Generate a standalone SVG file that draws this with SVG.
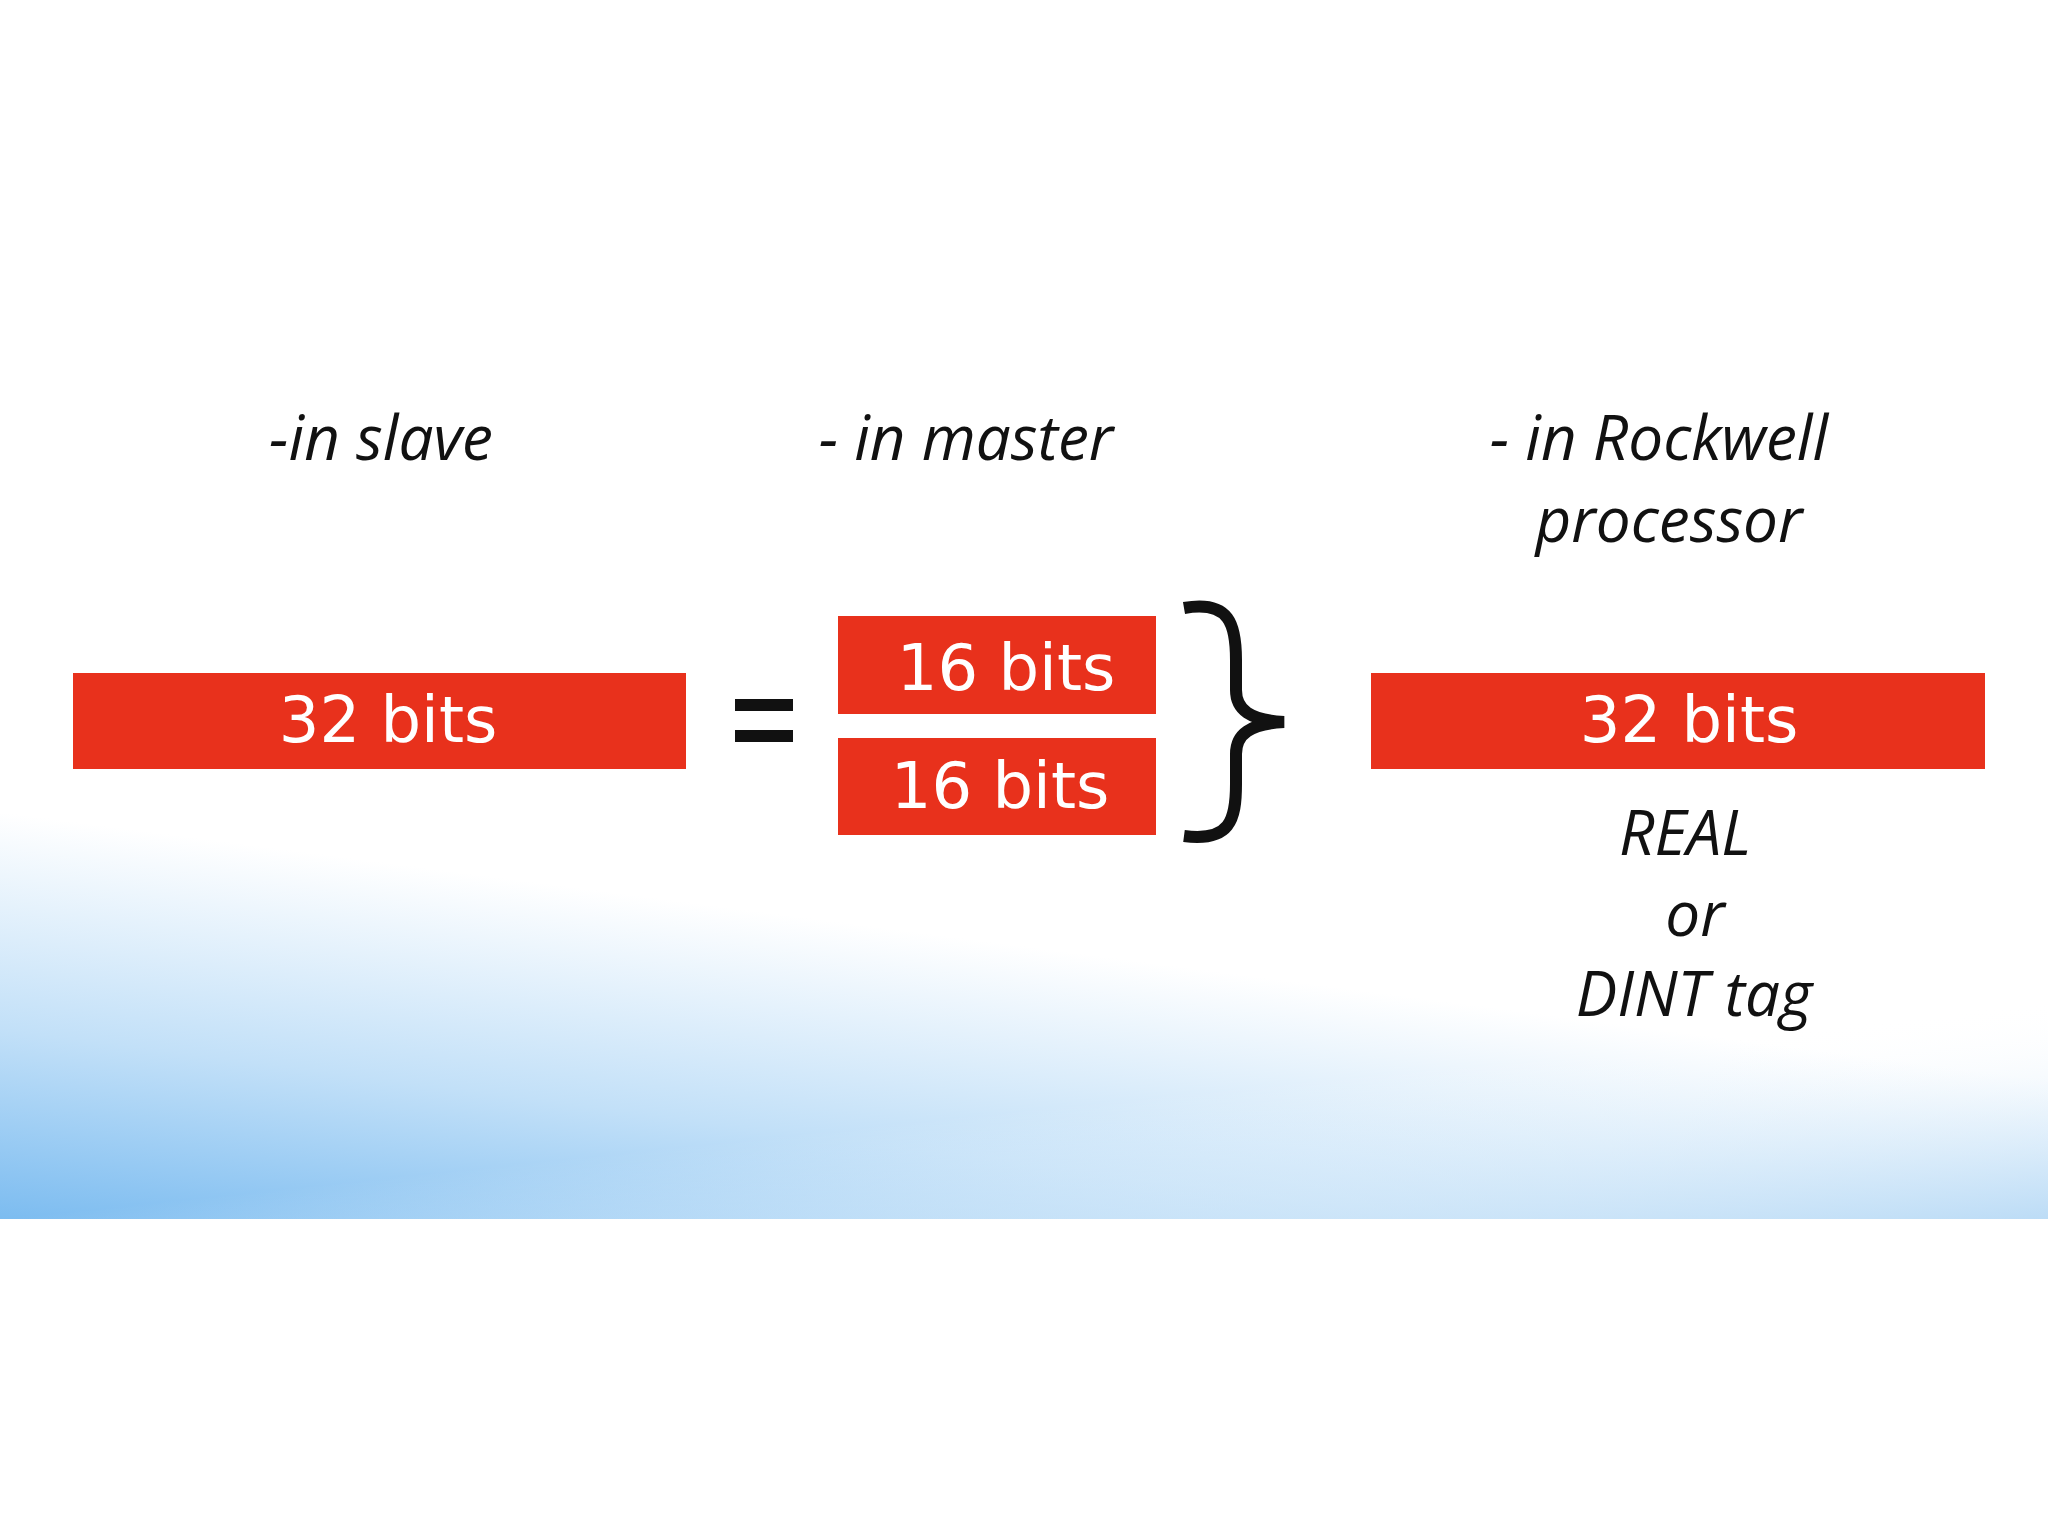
<svg xmlns="http://www.w3.org/2000/svg" width="2048" height="1536" viewBox="0 0 2048 1536">
<defs>
<linearGradient id="sky" x1="0" y1="1" x2="0.55" y2="0.1">
<stop offset="0" stop-color="#7cbcf0"/>
<stop offset="0.35" stop-color="#c2e0f8"/>
<stop offset="0.75" stop-color="#ffffff"/>
</linearGradient>
<linearGradient id="sky2" x1="1" y1="1" x2="0.8" y2="0.6">
<stop offset="0" stop-color="#bcdcf6"/>
<stop offset="1" stop-color="#ffffff" stop-opacity="0"/>
</linearGradient>
<style>
.box{fill:#e8311c}
.bt{font-family:"DejaVu Sans",sans-serif;font-size:64px;fill:#ffffff;text-anchor:middle}
.lb{font-family:"Open Sans","DejaVu Sans",sans-serif;font-style:italic;font-size:62px;fill:#111;text-anchor:middle}
</style>
</defs>
<rect width="2048" height="1536" fill="#fff"/>
<rect x="0" y="780" width="2048" height="439" fill="url(#sky)"/>
<rect x="0" y="780" width="2048" height="439" fill="url(#sky2)"/>
<g id="labels">
<text class="lb" x="381" y="460">-in slave</text>
<text class="lb" x="966" y="460">- in master</text>
<text class="lb" x="1659" y="460">- in Rockwell</text>
<text class="lb" x="1669" y="542">processor</text>
<text class="lb" x="1685" y="855">REAL</text>
<text class="lb" x="1695" y="936">or</text>
<text class="lb" x="1694" y="1016">DINT tag</text>
</g>
<g id="slave"><rect class="box" x="73" y="673" width="613" height="96"/><text class="bt" x="388" y="742">32 bits</text></g>
<g id="eq"><rect x="735" y="699" width="58" height="12" fill="#111"/><rect x="735" y="730" width="58" height="12" fill="#111"/></g>
<g id="m1"><rect class="box" x="838" y="616" width="318" height="98"/><text class="bt" x="1006" y="690">16 bits</text></g>
<g id="m2"><rect class="box" x="838" y="738" width="318" height="97"/><text class="bt" x="1000" y="808">16 bits</text></g>
<g id="connectors"><path d="M1184 608 C1230 600 1236 625 1236 660 L1236 690 C1236 710 1250 720 1284 722 C1250 724 1236 734 1236 754 L1236 784 C1236 820 1230 842 1184 836" fill="none" stroke="#111" stroke-width="12"/></g>
<g id="rock"><rect class="box" x="1371" y="673" width="614" height="96"/><text class="bt" x="1689" y="742">32 bits</text></g>
</svg>
